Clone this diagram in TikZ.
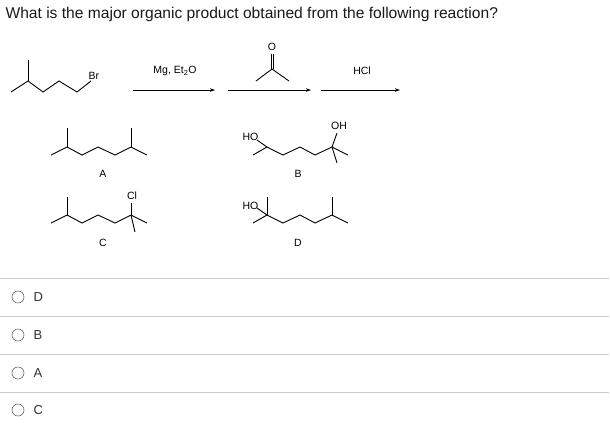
\documentclass[tikz,border=0pt]{standalone}
\usepackage{fontspec}
\setmainfont{Liberation Sans}
\usetikzlibrary{arrows.meta}
\begin{document}
\begin{tikzpicture}[x=1pt,y=-1pt,
  bond/.style={line width=0.9pt,line join=miter},
  lab/.style={font=\fontsize{10.5}{11}\selectfont,inner sep=0.5pt},
  rxn/.style={line width=0.9pt,-{Stealth[length=5pt,width=3.5pt]}},
  opt/.style={font=\fontsize{13}{15}\selectfont,anchor=west,text=black!80},
  sep/.style={draw=black!20,line width=0.6pt}]
\useasboundingbox (0,0) rectangle (610,424);
\node[anchor=west,font=\fontsize{15.6}{18}\selectfont,text=black!90] (q) at (2,14) {What is the major organic product obtained from the following reaction?};
% starting material
\draw[bond] (11,92)--(28,81)--(43,92)--(59,81)--(77,92)--(91,81); \draw[bond] (28,81)--(28,60);
\node[lab,anchor=west] (br) at (88,76) {Br};
% arrows
\coordinate (a1) at (133,90); \coordinate (b1) at (215,90);
\coordinate (a2) at (228,90); \coordinate (b2) at (311,90);
\coordinate (a3) at (321,90); \coordinate (b3) at (400,90);
\draw[rxn] (a1)--(b1); \draw[rxn] (a2)--(b2); \draw[rxn] (a3)--(b3);
\node[lab] (mg) at (175,71) {Mg, Et\textsubscript{2}O};
\node[lab] (hcl) at (362,71) {HCl};
\draw[bond] (256,81)--(272,69)--(289,81);
\draw[bond] (271,69)--(271,54); \draw[bond] (273,69)--(273,54);
\node[lab] (o) at (272,47) {O};
% A
\draw[bond] (51,155)--(67,147)--(82,155)--(98,147)--(115,155)--(131,147)--(147,155);
\draw[bond] (67,147)--(67,128); \draw[bond] (131,147)--(131,128);
\node[lab] (la) at (103,174) {A};
% B
\draw[bond] (253,155)--(267,147)--(283,155)--(300,147)--(315,155)--(332,147)--(348,155);
\draw[bond] (267,147)--(257,140); \draw[bond] (332,147)--(337,133); \draw[bond] (332,147)--(337,163);
\node[lab,anchor=east] (hob) at (259,137) {HO};
\node[lab] (ohb) at (339,126) {OH};
\node[lab] (lb) at (298,174) {B};
% C
\draw[bond] (51,223)--(67,215)--(82,223)--(98,215)--(115,223)--(131,215)--(147,223);
\draw[bond] (67,215)--(67,197); \draw[bond] (131,215)--(131,203); \draw[bond] (131,215)--(135,232);
\node[lab] (cl) at (132,196) {Cl};
\node[lab] (lc) at (103,243) {C};
% D
\draw[bond] (253,223)--(267,215)--(283,223)--(300,215)--(315,223)--(332,215)--(348,223);
\draw[bond] (267,215)--(267,197); \draw[bond] (267,215)--(257,208); \draw[bond] (332,215)--(332,197);
\node[lab,anchor=east] (hod) at (259,206) {HO};
\node[lab] (ld) at (298,243) {D};
% options
\draw[sep] (0,278)--(609,278); \draw[sep] (0,316)--(609,316); \draw[sep] (0,354)--(609,354); \draw[sep] (0,392)--(609,392);
\foreach \y/\t in {297/D,335/B,373/A,410/C}{
  \draw[black!60,line width=0.6pt] (18,\y) circle (6);
  \node[opt] at (30,\y) {\t};
}
\end{tikzpicture}
\end{document}
